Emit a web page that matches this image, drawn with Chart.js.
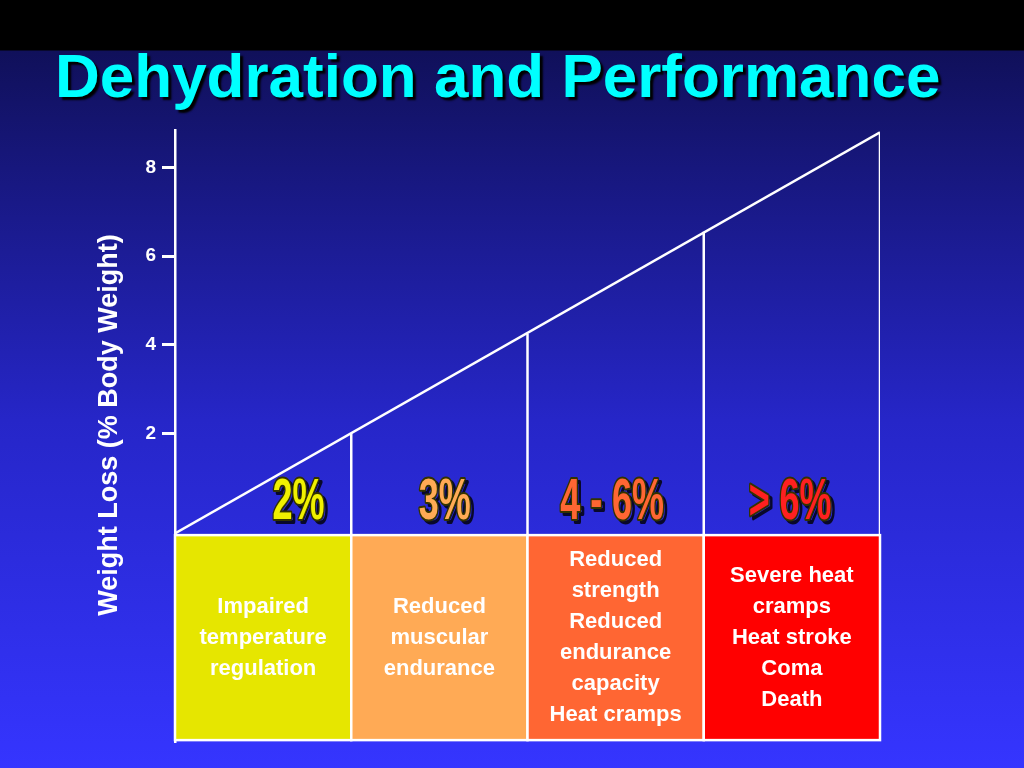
<!DOCTYPE html>
<html>
<head>
<meta charset="utf-8">
<script src="https://cdn.jsdelivr.net/npm/chart.js@4"></script>
<style>
  html, body { margin: 0; padding: 0; width: 1024px; height: 768px; overflow: hidden; }
  body { background: linear-gradient(to bottom, #000 0px, #000 50px, #10105a 51px, #2626c8 420px, #3535ff 768px); position: relative; font-family: "Liberation Sans", Arial, sans-serif; }
  h1 { position: absolute; left: 55px; top: 40px; margin: 0; color: #00ffff; font-size: 62px; font-weight: bold; text-shadow: 3px 3px 2px #000; }
  canvas { position: absolute; left: 0; top: 0; }
</style>
</head>
<body>
<h1>Dehydration and Performance</h1>
<canvas id="c" width="1024" height="768"></canvas>
<script>
// Stage boundaries on the x axis (0..4) and the line height at each boundary
const boundaryX = [0, 1, 2, 3, 4];
const lineHeight = [-0.26, 2.0, 4.25, 6.55, 8.8];
const yTicks = [2, 4, 6, 8];

// Stages
const stageLabels = ['2%', '3%', '4 - 6%', '> 6%'];
const stageLabelColors = ['#f0f000', '#ffaa55', '#ff6633', '#ff2020'];
const boxColors = ['#e6e600', '#ffaa55', '#ff6633', '#ff0000'];
const boxTop = -0.3;
const boxBottom = -4.93;
const boxTexts = [
    ['Impaired', 'temperature', 'regulation'],
    ['Reduced', 'muscular', 'endurance'],
    ['Reduced', 'strength', 'Reduced', 'endurance', 'capacity', 'Heat cramps'],
    ['Severe heat', 'cramps', 'Heat stroke', 'Coma', 'Death']
];
const axisTitle = 'Weight Loss (% Body Weight)';

const datasets = [];
// diagonal line
datasets.push({
    data: [{ x: boundaryX[0], y: lineHeight[0] }, { x: boundaryX[4], y: lineHeight[4] }],
    borderColor: '#ffffff', borderWidth: 2.5, pointRadius: 0
});
// vertical separators
for (let i = 1; i < boundaryX.length; i++) {
    datasets.push({
        data: [{ x: boundaryX[i], y: boxTop }, { x: boundaryX[i], y: lineHeight[i] }],
        borderColor: '#ffffff', borderWidth: 2.5, pointRadius: 0
    });
}

const boxPlugin = {
    id: 'boxes',
    beforeDatasetsDraw(chart) {
        const ctx = chart.ctx;
        const xs = chart.scales.x, ys = chart.scales.y;
        ctx.save();
        const top = ys.getPixelForValue(boxTop), bottom = ys.getPixelForValue(boxBottom);
        boxColors.forEach((c, i) => {
            const l = xs.getPixelForValue(boundaryX[i]), r = xs.getPixelForValue(boundaryX[i + 1]);
            ctx.fillStyle = c;
            ctx.fillRect(l, top, r - l, bottom - top);
            ctx.strokeStyle = '#ffffff';
            ctx.lineWidth = 2.5;
            ctx.strokeRect(l, top, r - l, bottom - top);
        });
        ctx.restore();
    },
    afterDatasetsDraw(chart) {
        const ctx = chart.ctx;
        const xs = chart.scales.x, ys = chart.scales.y;
        ctx.save();
        // box texts
        ctx.fillStyle = '#ffffff';
        ctx.font = 'bold 22px "Liberation Sans", Arial, sans-serif';
        ctx.textAlign = 'center';
        ctx.textBaseline = 'middle';
        const midY = ys.getPixelForValue((boxTop + boxBottom) / 2);
        boxTexts.forEach((lines, i) => {
            const cx = xs.getPixelForValue(i + 0.5);
            const start = midY - (lines.length - 1) * 31 / 2;
            lines.forEach((t, j) => ctx.fillText(t, cx, start + j * 31));
        });

        // stage percentages
        const labelX = [0.70, 1.53, 2.48, 3.49];
        stageLabels.forEach((t, i) => {
            const px = xs.getPixelForValue(labelX[i]);
            const py = ys.getPixelForValue(0.42);
            ctx.save();
            ctx.translate(px, py);
            ctx.scale(0.62, 1);
            ctx.font = 'bold 58px "Liberation Sans", Arial, sans-serif';
            ctx.lineJoin = 'round';
            ctx.shadowColor = 'rgba(0,0,0,0.8)';
            ctx.shadowOffsetX = 3; ctx.shadowOffsetY = 3;
            ctx.strokeStyle = '#333300';
            ctx.lineWidth = 4;
            ctx.strokeText(t, 0, 0);
            ctx.shadowColor = 'transparent';
            ctx.fillStyle = stageLabelColors[i];
            ctx.fillText(t, 0, 0);
            ctx.restore();
        });

        // y axis title
        ctx.save();
        ctx.translate(110, 425);
        ctx.rotate(-Math.PI / 2);
        ctx.font = 'bold 27px "Liberation Sans", Arial, sans-serif';
        ctx.fillStyle = '#ffffff';
        ctx.fillText(axisTitle, 0, 0);
        ctx.restore();
        ctx.restore();
    }
};

new Chart(document.getElementById('c'), {
    type: 'line',
    data: { datasets },
    options: {
        responsive: false,
        devicePixelRatio: 1,
        animation: false,
        layout: { padding: { top: 130, bottom: 27, right: 144, left: 0 } },
        plugins: { legend: { display: false }, tooltip: { enabled: false } },
        scales: {
            x: { type: 'linear', min: 0, max: 4, offset: false, display: false },
            y: {
                min: -4.95, max: 8.85,
                afterBuildTicks: s => { s.ticks = yTicks.map(v => ({ value: v })); },
                afterFit: s => { s.width = 175; },
                border: { color: '#ffffff', width: 2.5 },
                grid: { drawOnChartArea: false, color: '#ffffff', lineWidth: 3, tickLength: 13 },
                ticks: { color: '#ffffff', padding: 6, font: { family: 'Liberation Sans', weight: 'bold', size: 19 } }
            }
        }
    },
    plugins: [boxPlugin]
});
</script>
</body>
</html>
